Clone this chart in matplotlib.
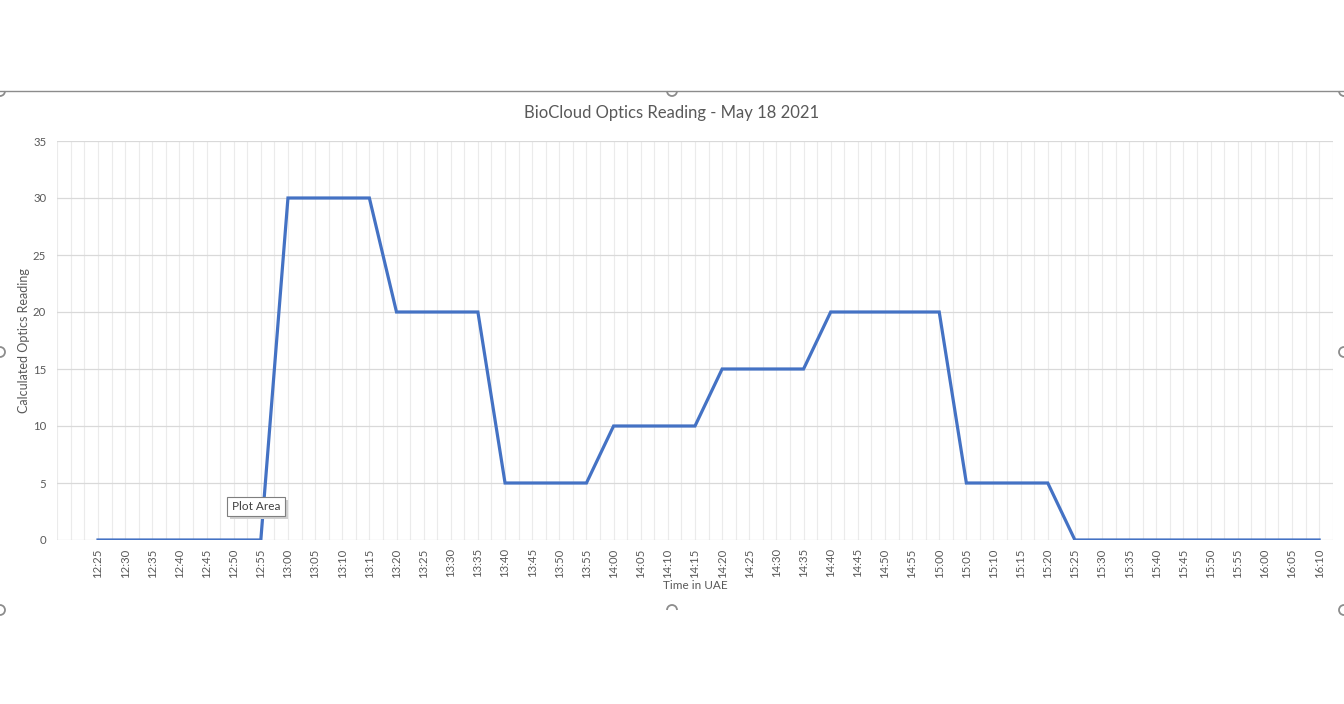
import matplotlib
matplotlib.use('Agg')
import matplotlib.pyplot as plt
from matplotlib.patches import Arc, Rectangle
from matplotlib.lines import Line2D
import numpy as np

plt.rcParams['font.family'] = ['Lato', 'DejaVu Sans']

times = ["12:25", "12:30", "12:35", "12:40", "12:45", "12:50", "12:55",
         "13:00", "13:05", "13:10", "13:15", "13:20", "13:25", "13:30", "13:35",
         "13:40", "13:45", "13:50", "13:55", "14:00", "14:05", "14:10", "14:15",
         "14:20", "14:25", "14:30", "14:35", "14:40", "14:45", "14:50", "14:55",
         "15:00", "15:05", "15:10", "15:15", "15:20", "15:25", "15:30", "15:35",
         "15:40", "15:45", "15:50", "15:55", "16:00", "16:05", "16:10"]
readings = [0, 0, 0, 0, 0, 0, 0,
            30, 30, 30, 30, 20, 20, 20, 20,
            5, 5, 5, 5, 10, 10, 10, 10,
            15, 15, 15, 15, 20, 20, 20, 20,
            20, 5, 5, 5, 5, 0, 0, 0,
            0, 0, 0, 0, 0, 0, 0]
yticks = [0, 5, 10, 15, 20, 25, 30, 35]

title = "BioCloud Optics Reading - May 18 2021"
xlabel = "Time in UAE"
ylabel = "Calculated Optics Reading"

txt = '#595959'
W, H = 1344, 704

fig = plt.figure(figsize=(W / 100, H / 100), dpi=100)
ax = fig.add_axes([57.3 / W, 1 - 540 / H, (1332.7 - 57.3) / W, (540 - 141) / H])

# minutes from first sample
mins = [i * 5 for i in range(len(times))]

# vertical grid every half category, horizontal at major ticks
for gx in np.arange(-7.5, 228, 2.5):
    ax.axvline(gx, color='#EBEBEB', lw=0.8, zorder=1)
for gy in yticks:
    ax.axhline(gy, color='#D9D9D9', lw=0.9, zorder=1)

ax.plot(mins, readings, color='#4472C4', lw=2.3, solid_joinstyle='miter', zorder=3)

ax.set_xlim(-7.5, 227.5)
ax.set_ylim(0, 35)
ax.set_yticks(yticks)
ax.set_xticks(mins)
ax.set_xticklabels(times, rotation=90)
ax.tick_params(axis='both', length=0, labelsize=8.2, labelcolor=txt)
ax.tick_params(axis='x', pad=6)
ax.tick_params(axis='y', pad=8)
for s in ax.spines.values():
    s.set_visible(False)

ax.set_xlabel(xlabel, fontsize=8.5, color=txt, labelpad=2)
ax.set_ylabel(ylabel, fontsize=9, color=txt, labelpad=2)

fig.text(672 / W, 1 - 113 / H, title, ha='center', va='center', fontsize=12, color=txt)

# chart frame remnants (Excel selection border and handles)
fig.add_artist(Line2D([0, 1], [1 - 91 / H, 1 - 91 / H], transform=fig.transFigure,
                      color='#8C8C8C', lw=1.0))
def handle(x, y, t1, t2):
    a = Arc((x, y), 10, 10, theta1=t1, theta2=t2, transform=None,
            color='#8C8C8C', lw=1.3)
    fig.add_artist(a)
handle(672, H - 91, 180, 360)
handle(0, H - 91, 180, 360)
handle(W, H - 91, 180, 360)
handle(0, H - 352, -90, 90)
handle(W, H - 352, 90, 270)
handle(672, H - 610, 0, 180)
handle(0, H - 610, -90, 90)
handle(W, H - 610, 90, 270)

# "Plot Area" tooltip with a soft shadow
fig.add_artist(Rectangle((230, H - 519), 58, 19, transform=None, fc='#D0D0D0', ec='none', zorder=9))
fig.add_artist(Rectangle((227, H - 516), 58, 19, transform=None, fc='white', ec='#7F7F7F', lw=0.8, zorder=10))
fig.text(256 / W, 1 - 506 / H, "Plot Area", ha='center', va='center', fontsize=8.5, color='#404040', zorder=11)

fig.savefig('out.png', dpi=100)
